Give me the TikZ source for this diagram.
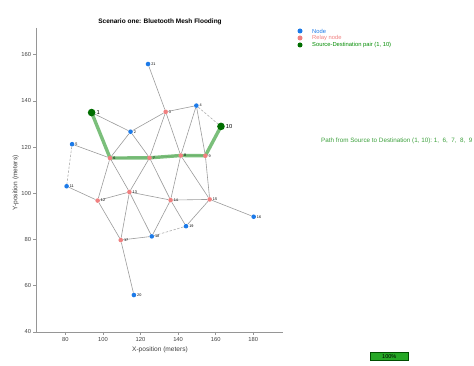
\documentclass[tikz,border=0pt]{standalone}
\usepackage{fontspec}
\setmainfont{Liberation Sans}
\usetikzlibrary{positioning}
\usetikzlibrary{backgrounds}
\definecolor{ndblue}{RGB}{28,122,232}
\definecolor{rlpink}{RGB}{240,128,128}
\definecolor{sdgreen}{RGB}{0,110,0}
\definecolor{pthgreen}{RGB}{90,175,90}
\definecolor{txtgreen}{RGB}{60,160,60}
\definecolor{axgray}{RGB}{150,150,150}
\definecolor{edgray}{RGB}{155,155,155}
\tikzset{nd/.style={circle,inner sep=0pt,minimum size=4.6pt,fill=ndblue}}
\tikzset{rl/.style={circle,inner sep=0pt,minimum size=4.6pt,fill=rlpink}}
\tikzset{sd/.style={circle,inner sep=0pt,minimum size=7.6pt,fill=sdgreen}}
\tikzset{lbl/.style={inner sep=0.6pt,font=\fontsize{3.8}{4}\selectfont}}
\tikzset{lblbig/.style={inner sep=0.8pt,font=\fontsize{5.8}{6}\selectfont}}
\tikzset{edg/.style={draw=edgray,line width=0.6pt}}
\tikzset{dsh/.style={draw=edgray!80,line width=0.6pt,dash pattern=on 2.5pt off 1.5pt}}
\tikzset{pth/.style={draw=pthgreen,opacity=0.8,line width=3.4pt,line join=round}}
\tikzset{tck/.style={font=\fontsize{5.8}{6}\selectfont,text=black!75,inner sep=1pt}}
\tikzset{ttl/.style={font=\fontsize{6.6}{7}\selectfont,text=black!75,inner sep=1pt}}
\tikzset{lgd/.style={font=\fontsize{5.8}{6}\selectfont,anchor=west,inner sep=0pt}}

\begin{document}
\begin{tikzpicture}[x=1pt, y=1pt]
        \useasboundingbox (0,0) rectangle (474,366);
        % title and legend
        \node[font=\bfseries\fontsize{6.5}{7}\selectfont] (title) at (160,344) {Scenario one: Bluetooth Mesh Flooding};
        \node[nd, minimum size=5pt] (lg1) at (300,335) {};
        \node[rl, minimum size=5pt] (lg2) at (300,328) {};
        \node[sd, minimum size=5pt] (lg3) at (300,321) {};
        \node[lgd, text=ndblue, right=12pt of lg1.center] (lt1) {Node};
        \node[lgd, text=rlpink, right=12pt of lg2.center] (lt2) {Relay node};
        \node[lgd, text=sdgreen!80!green, right=12pt of lg3.center] (lt3) {Source-Destination pair (1, 10)};
        \node[lgd, text=txtgreen, font=\fontsize{6.3}{7}\selectfont] (ptxt) at (321,225) {Path from Source to Destination (1, 10):\ 1,\ \ 6,\ \ 7,\ \ 8,\ \ 9};
        % progress bar
        \node[draw=sdgreen!70!black, fill=green!60!black!85, line width=0.4pt, minimum width=38.5pt, minimum height=8pt, inner sep=0pt, font=\fontsize{5.6}{6}\selectfont] (bar) at (389.3,9.3) {100\%};
        % axis titles
        \node[ttl] (xtitle) at (160,16) {X-position (meters)};
        \node[ttl, rotate=90] (ytitle) at (15.7,183) {Y-position (meters)};

        \begin{scope}[shift={(-85.1pt,-58.4pt)}, x=1.88pt, y=2.31pt]
        % axes
        \coordinate (o) at (64.8,40);
        \coordinate (yt) at (64.8,171.6);
        \coordinate (xr) at (195.8,40);
        \draw[axgray, line width=0.8pt] (yt) -- (o) -- (xr);
        \foreach \v in {40,60,...,160} {
            \draw[axgray, line width=0.6pt] (64.8,\v) -- ++(-3.5pt,0);
            \node[tck, anchor=east] at ([xshift=-4.5pt]64.8,\v) {\v};
        }
        \foreach \v in {80,100,...,180} {
            \draw[axgray, line width=0.6pt] (\v,40) -- ++(0,-3.5pt);
            \node[tck, anchor=north] at ([yshift=-4.5pt]\v,40) {\v};
        }

        % nodes
        \node[sd, label={[lblbig]east:1}] (n1) at (94,135) {};
        \node[nd, label={[lbl]east:2}] (n2) at (114.7,126.7) {};
        \node[rl, label={[lbl]east:3}] (n3) at (133.4,135.3) {};
        \node[nd, label={[lbl]east:4}] (n4) at (149.7,138) {};
        \node[nd, label={[lbl]east:5}] (n5) at (83.6,121.3) {};
        \node[rl, label={[lbl]east:6}] (n6) at (103.8,115.3) {};
        \node[rl, label={[lbl]east:7}] (n7) at (124.8,115.4) {};
        \node[rl, label={[lbl]east:8}] (n8) at (141.4,116.4) {};
        \node[rl, label={[lbl]east:9}] (n9) at (154.5,116.3) {};
        \node[sd, label={[lblbig]east:10}] (n10) at (162.8,129) {};
        \node[nd, label={[lbl]east:11}] (n11) at (80.7,103.1) {};
        \node[rl, label={[lbl]east:12}] (n12) at (97.2,96.9) {};
        \node[rl, label={[lbl]east:13}] (n13) at (114.1,100.6) {};
        \node[rl, label={[lbl]east:14}] (n14) at (136,97.1) {};
        \node[rl, label={[lbl]east:15}] (n15) at (156.8,97.4) {};
        \node[nd, label={[lbl]east:16}] (n16) at (180.2,89.9) {};
        \node[rl, label={[lbl]east:17}] (n17) at (109.5,79.8) {};
        \node[nd, label={[lbl]east:18}] (n18) at (126,81.4) {};
        \node[nd, label={[lbl]east:19}] (n19) at (144.2,85.8) {};
        \node[nd, label={[lbl]east:20}] (n20) at (116.5,56) {};
        \node[nd, label={[lbl]east:21}] (n21) at (124,156) {};

        % links
        \begin{scope}[on background layer]
        \foreach \a/\b in {1/2,2/3,2/6,2/7,3/21,3/4,3/7,3/8,4/8,4/9,5/6,6/7,7/8,8/9,
                6/12,6/13,7/13,7/14,8/14,8/15,9/15,11/12,12/13,12/17,13/14,13/17,
                13/18,14/15,14/18,14/19,15/16,15/19,17/18,17/20}
            \draw[edg] (n\a) -- (n\b);
        \foreach \a/\b in {5/11,4/10,18/19}
            \draw[dsh] (n\a) -- (n\b);
        \draw[pth] (n1.center) -- (n6.center) -- (n7.center) -- (n8.center) -- (n9.center) -- (n10.center);
        \end{scope}
        \end{scope}
    \end{tikzpicture}
\end{document}
